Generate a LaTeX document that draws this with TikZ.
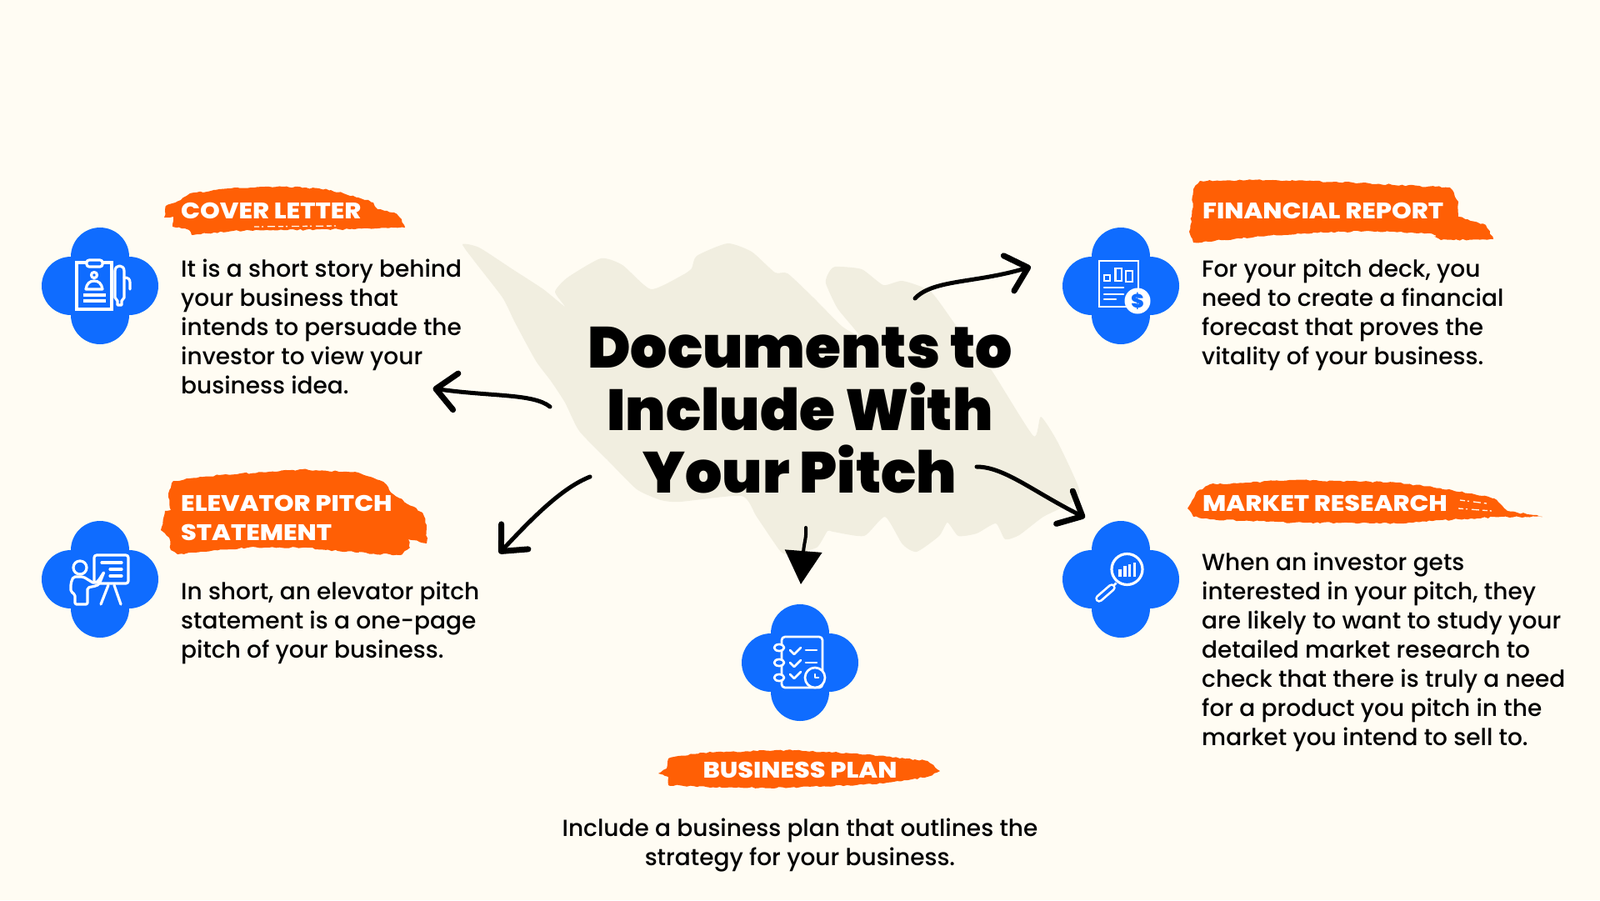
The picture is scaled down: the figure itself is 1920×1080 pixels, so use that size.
\documentclass[tikz,border=0pt]{standalone}
\usepackage{fontspec}
\usetikzlibrary{arrows.meta}
\usetikzlibrary{decorations.pathmorphing}
\newfontfamily\bodyfont{Poppins}[UprightFont=*-Medium]
\newfontfamily\headfont{Poppins}[UprightFont=*-ExtraBold, FakeStretch=1.12]
\newfontfamily\titlefont{Poppins}[UprightFont=*-Black]
\definecolor{paper}{HTML}{FFFCF3}
\definecolor{smear}{HTML}{F1EEE0}
\definecolor{brush}{HTML}{FF5F05}
\definecolor{petal}{HTML}{0F6CFF}
\newcommand{\petals}[1]{
    \fill[petal] (#1) ++(0,-35) circle[radius=35];
    \fill[petal] (#1) ++(0,35) circle[radius=35];
    \fill[petal] (#1) ++(-35,0) circle[radius=35];
    \fill[petal] (#1) ++(35,0) circle[radius=35];
    \fill[petal] (#1) ++(-35,-35) rectangle ++(70,70);
}
\begin{document}
\begin{tikzpicture}[x=1pt, y=-1pt]
    \tikzstyle{brushstroke} = [fill=brush, decorate, decoration={random steps, segment length=4pt, amplitude=1pt}]
    \tikzstyle{fleck} = [draw=paper, line width=1.3pt, dash pattern=on 6pt off 3pt on 2pt off 5pt on 9pt off 4pt]
    \tikzstyle{heading} = [anchor=base west, inner sep=0pt, text=white, font=\headfont\fontsize{27}{35}\selectfont]
    \tikzstyle{body} = [anchor=north west, inner sep=0pt, align=left, font=\bodyfont\fontsize{28}{35}\selectfont]
    \tikzstyle{icon} = [draw=white, line width=3.2pt, line cap=round, line join=round]
    \tikzstyle{thinicon} = [icon, line width=2.7pt]
    \tikzstyle{pointer} = [line width=5pt, line cap=round, -{Straight Barb[length=24pt, width=44pt, line width=7pt, round]}]
    \useasboundingbox (0,0) rectangle (1920,1080);
    \fill[paper] (0,0) rectangle (1920,1080);
    % smear behind the title
    \fill[smear] plot[smooth cycle, tension=0.35] coordinates {(555,293) (575,297) (615,323) (652,347) (678,368) (666,350) (681,333) (721,310) (747,318) (781,347) (819,330) (830,322) (836,307) (873,292) (902,302) (930,327) (945,328) (976,357) (1011,392) (1031,402) (1005,370) (991,340) (994,328) (1002,320) (1034,323) (1060,342) (1083,337) (1117,350) (1149,393) (1189,443) (1240,523) (1249,500) (1269,530) (1295,587) (1286,603) (1252,620) (1223,642) (1206,647) (1195,628) (1172,640) (1150,643) (1137,627) (1127,643) (1100,662) (1083,653) (1062,620) (1037,643) (1000,638) (993,637) (980,657) (950,664) (937,662) (908,620) (890,595) (816,602) (793,600) (764,587) (730,553) (695,517) (678,483) (661,457) (643,433) (618,387) (603,357) (569,313)};
    % brush strokes
    \fill[brushstroke] (197,261) -- (199,247) -- (217,240) -- (228,232) -- (277,226) -- (323,224) -- (367,225) -- (397,228) -- (430,237) -- (448,243) -- (453,251) -- (473,255) -- (482,263) -- (486,273) -- (420,275) -- (340,276) -- (280,277) -- (230,282) -- (227,276) -- (207,272) -- (208,260) -- cycle;
    \fill[brushstroke] (208,577) -- (263,570) -- (363,563) -- (430,567) -- (460,578) -- (472,593) -- (507,615) -- (512,630) -- (512,652) -- (490,647) -- (492,657) -- (480,666) -- (430,663) -- (363,657) -- (297,657) -- (213,665) -- (205,660) -- (203,645) -- (193,636) -- (198,613) -- (205,612) -- (202,592) -- cycle;
    \fill[brushstroke] (1440,217) -- (1503,216) -- (1603,218) -- (1740,225) -- (1750,242) -- (1750,260) -- (1783,270) -- (1792,287) -- (1729,288) -- (1717,280) -- (1641,277) -- (1557,280) -- (1432,291) -- (1427,278) -- (1430,260) -- (1432,227) -- cycle;
    \fill[brushstroke] (1425,610) -- (1436,590) -- (1452,581) -- (1552,576) -- (1676,579) -- (1739,587) -- (1793,598) -- (1809,613) -- (1851,620) -- (1801,620) -- (1751,623) -- (1676,628) -- (1552,627) -- (1452,623) -- (1432,620) -- cycle;
    \fill[brushstroke] (790,928) -- (800,922) -- (802,910) -- (840,903) -- (943,900) -- (1043,905) -- (1113,913) -- (1128,925) -- (1113,932) -- (1060,940) -- (947,945) -- (860,945) -- (802,942) -- (802,932) -- cycle;
    \draw[fleck] (305,272) -- (405,271);
    \draw[fleck] (1640,280) -- (1725,283);
    \draw[fleck] (1752,600) -- (1784,604);
    \draw[fleck] (1750,610) -- (1790,613);
    \coordinate (cover) at (120,343);
    \coordinate (elevator) at (120,695);
    \coordinate (financial) at (1345,343);
    \coordinate (market) at (1345,695);
    \coordinate (plan) at (960,795);
    \petals{cover}
    \petals{elevator}
    \petals{financial}
    \petals{market}
    \petals{plan}
    % clipboard and pen
    \begin{scope}[shift={(cover)}]
        \draw[icon, line cap=butt, line join=miter] (-28,-28) rectangle (14,28);
        \draw[icon, fill=petal, rounded corners=3pt] (-16,-31) rectangle (3,-23);
        \draw[icon] (-7,-13) circle[radius=3.5];
        \draw[icon] (-17,4) .. controls (-16,-3) and (-12,-6) .. (-7,-6) .. controls (-2,-6) and (2,-3) .. (3,4) -- cycle;
        \draw[icon, line cap=butt] (-20,11) -- (7,11);
        \draw[icon, line cap=butt] (-20,18) -- (7,18);
        \draw[icon] (18,-18) .. controls (18,-26) and (29,-26) .. (29,-18) -- (29,14) -- (26,18) -- (26,23) -- (21,23) -- (21,18) -- (18,14) -- cycle;
        \draw[icon] (29,-10) .. controls (34,-10) and (36,-8) .. (36,-4) -- (36,4);
    \end{scope}
    % presenter and board
    \begin{scope}[shift={(elevator)}]
        \draw[icon, rounded corners=3pt] (-7,-29) rectangle (34,5);
        \draw[icon] (2,-20) -- (26,-20);
        \draw[icon] (12,-12) -- (26,-12);
        \draw[icon] (12,-4) -- (26,-4);
        \draw[icon] (10,7) -- (1,30);
        \draw[icon] (17,7) -- (25,30);
        \draw[icon] (-24,-14) circle[radius=8];
        \draw[icon, fill=petal, rounded corners=2pt] (-35,5) -- (-32,-3) -- (-20,-3) -- (-7,5) -- (-2,2) -- (5,-9) -- (-1,6) -- (-5,8) -- (-15,10) -- (-15,30) -- (-30,30) -- (-30,18) -- (-35,15) -- cycle;
    \end{scope}
    % report and coin
    \begin{scope}[shift={(financial)}]
        \draw[thinicon, line cap=butt, line join=miter] (-26,-30) rectangle (21,25);
        \draw[thinicon, line join=miter] (-20,-13) rectangle (-13,-6);
        \draw[thinicon, line join=miter] (-6.5,-21) rectangle (1,-6);
        \draw[thinicon, line join=miter] (6,-18) rectangle (14,-5);
        \draw[thinicon] (-20,2) -- (3,2);
        \draw[thinicon] (-20,10) -- (3,10);
        \draw[thinicon] (-20,16) -- (-6,16);
        \fill[white] (20,18) circle[radius=15.5];
        \node[inner sep=0pt, text=petal, font=\titlefont\fontsize{23}{23}\selectfont] (coin) at (20,18) {\$};
    \end{scope}
    % lens
    \begin{scope}[shift={(market)}]
        \draw[icon] (7.5,-12) circle[radius=18.5];
        \draw[white, line width=3.2pt] (-1,-3.3) -- (-1,-12);
        \draw[white, line width=3.2pt] (5,-3.3) -- (5,-16);
        \draw[white, line width=3.2pt] (10.5,-3.3) -- (10.5,-18);
        \draw[white, line width=3.2pt] (16.5,-3.3) -- (16.5,-20);
        \draw[white, line width=2.6pt] (-5.5,4.5) -- (-9,8);
        \draw[white, line width=9.5pt, line cap=round] (-11,10) -- (-26,23);
        \draw[petal, line width=4pt, line cap=round] (-11,10) -- (-26,23);
    \end{scope}
    % checklist and clock
    \begin{scope}[shift={(plan)}]
        \draw[thinicon, rounded corners=4pt] (-22,-31) rectangle (27,30);
        \draw[thinicon, fill=petal] (-25,-18) ellipse[x radius=6, y radius=4];
        \draw[thinicon, fill=petal] (-25,0) ellipse[x radius=6, y radius=4];
        \draw[thinicon, fill=petal] (-25,18) ellipse[x radius=6, y radius=4];
        \draw[thinicon] (-12,-15) -- (-7,-10) -- (1,-18);
        \draw[thinicon] (-12,0) -- (-7,5) -- (1,-3);
        \draw[thinicon] (-12,14) -- (-7,19) -- (1,11);
        \draw[thinicon] (7,-15) -- (20,-15);
        \draw[thinicon] (7,0) -- (20,0);
        \draw[thinicon, fill=petal] (18,18) circle[radius=12];
        \draw[thinicon] (18,14) -- (18,18) -- (22,18);
    \end{scope}
    \node[heading] (coverhead) at (217,262) {COVER LETTER};
    \node[heading, align=left, anchor=north west] (elevatorhead) at (217,594) {ELEVATOR PITCH\\STATEMENT};
    \node[heading] (financialhead) at (1443,262) {FINANCIAL REPORT};
    \node[heading] (markethead) at (1443,613) {MARKET RESEARCH};
    \node[heading, anchor=base] (planhead) at (960,933) {BUSINESS PLAN};
    \node[body] (covertext) at (217,311) {It is a short story behind\\your business that\\intends to persuade the\\investor to view your\\business idea.};
    \node[body] (elevatortext) at (217,698) {In short, an elevator pitch\\statement is a one-page\\pitch of your business.};
    \node[body] (financialtext) at (1442,311) {For your pitch deck, you\\need to create a financial\\forecast that proves the\\vitality of your business.};
    \node[body] (markettext) at (1442,663) {When an investor gets\\interested in your pitch, they\\are likely to want to study your\\detailed market research to\\check that there is truly a need\\for a product you pitch in the\\market you intend to sell to.};
    \node[body, anchor=north, align=center] (plantext) at (960,981.5) {Include a business plan that outlines the\\strategy for your business.};
    \node[align=center, inner sep=0pt, font=\titlefont\fontsize{69.5}{75}\selectfont] (title) at (960,492) {Documents to\\Include With\\Your Pitch};
    % hand drawn arrows
    \coordinate (a1) at (660,488);
    \coordinate (b1) at (519.5,466);
    \coordinate (a2) at (1098,358);
    \coordinate (b2) at (1237,320);
    \coordinate (a3) at (708,572);
    \coordinate (b3) at (599,664);
    \coordinate (a4) at (1172,560);
    \coordinate (b4) at (1302,621);
    \coordinate (a5) at (967,633);
    \coordinate (b5) at (961,701);
    \draw[pointer] (a1) .. controls (640,472) and (590,476) .. (b1);
    \draw[pointer] (a2) .. controls (1120,335) and (1170,340) .. (b2);
    \draw[pointer] (a3) .. controls (675,585) and (640,620) .. (b3);
    \draw[pointer] (a4) .. controls (1205,560) and (1240,590) .. (b4);
    \draw[line width=4pt, line cap=round, -{Triangle[length=40pt, width=44pt]}] (a5) .. controls (968,645) and (965,650) .. (b5);
\end{tikzpicture}
\end{document}
